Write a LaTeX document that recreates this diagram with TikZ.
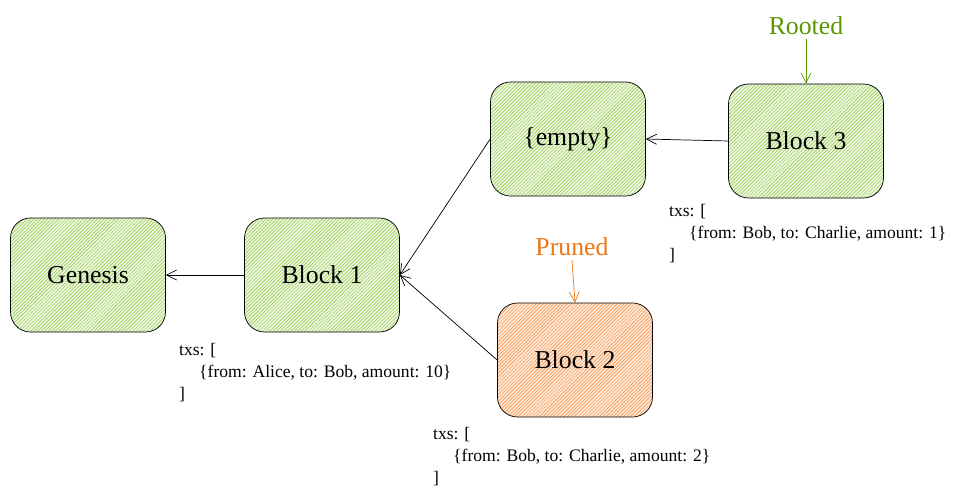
\documentclass[tikz,border=0pt]{standalone}
\usepackage{fontspec}
\setmainfont{Liberation Serif}
\usetikzlibrary{positioning,patterns,arrows.meta}
\definecolor{hatchgreen}{RGB}{140,200,60}
\definecolor{hatchorange}{RGB}{245,140,60}
\definecolor{rootgreen}{RGB}{90,150,0}
\definecolor{pruneorange}{RGB}{235,120,20}
\tikzset{
  block/.style={draw=black,semithick,rounded corners=0.6cm,minimum width=4.65cm,minimum height=3.42cm,font=\fontsize{22}{26}\selectfont},
  greenblock/.style={block,preaction={fill=hatchgreen!15},pattern=north east lines,pattern color=hatchgreen},
  orangeblock/.style={block,preaction={fill=hatchorange!20},pattern=north east lines,pattern color=hatchorange},
  txs/.style={align=left,anchor=north west,inner sep=0pt,font=\fontsize{15}{19}\selectfont},
  link/.style={-{Straight Barb[length=3mm,width=3mm]},semithick},
}
\begin{document}
\begin{tikzpicture}[x=0.03cm,y=-0.03cm]
		\useasboundingbox (0,0) rectangle (966,499);
		\node[greenblock] (genesis) at (88,275) {Genesis};
		\node[greenblock] (b1) at (322,275) {Block 1};
		\node[greenblock] (empty) at (568,139) {\{empty\}};
		\node[greenblock] (b3) at (806,141) {Block 3};
		\node[orangeblock] (b2) at (575,360) {Block 2};
		
		\draw[link] (b1.west)--(genesis.east);
		\draw[link] (empty.west)--(b1.east);
		\draw[link] (b2.west)--(b1.east);
		\draw[link] (b3.west)--(empty.east);
		
		\node[text=rootgreen,font=\fontsize{22}{26}\selectfont] (rooted) at (806,26) {Rooted};
		\node[text=pruneorange,font=\fontsize{22}{26}\selectfont] (pruned) at (572,247) {Pruned};
		\draw[link,rootgreen] (rooted.south)--(b3.north);
		\draw[link,pruneorange] (pruned.south)--(b2.north);
		
		\node[txs] (tx1) at (179,343) {txs: [\\\hspace{0.6cm}\{from: Alice, to: Bob, amount: 10\}\\]};
		\node[txs] (tx2) at (433,427) {txs: [\\\hspace{0.6cm}\{from: Bob, to: Charlie, amount: 2\}\\]};
		\node[txs] (tx3) at (669,204) {txs: [\\\hspace{0.6cm}\{from: Bob, to: Charlie, amount: 1\}\\]};
	\end{tikzpicture}
\end{document}
